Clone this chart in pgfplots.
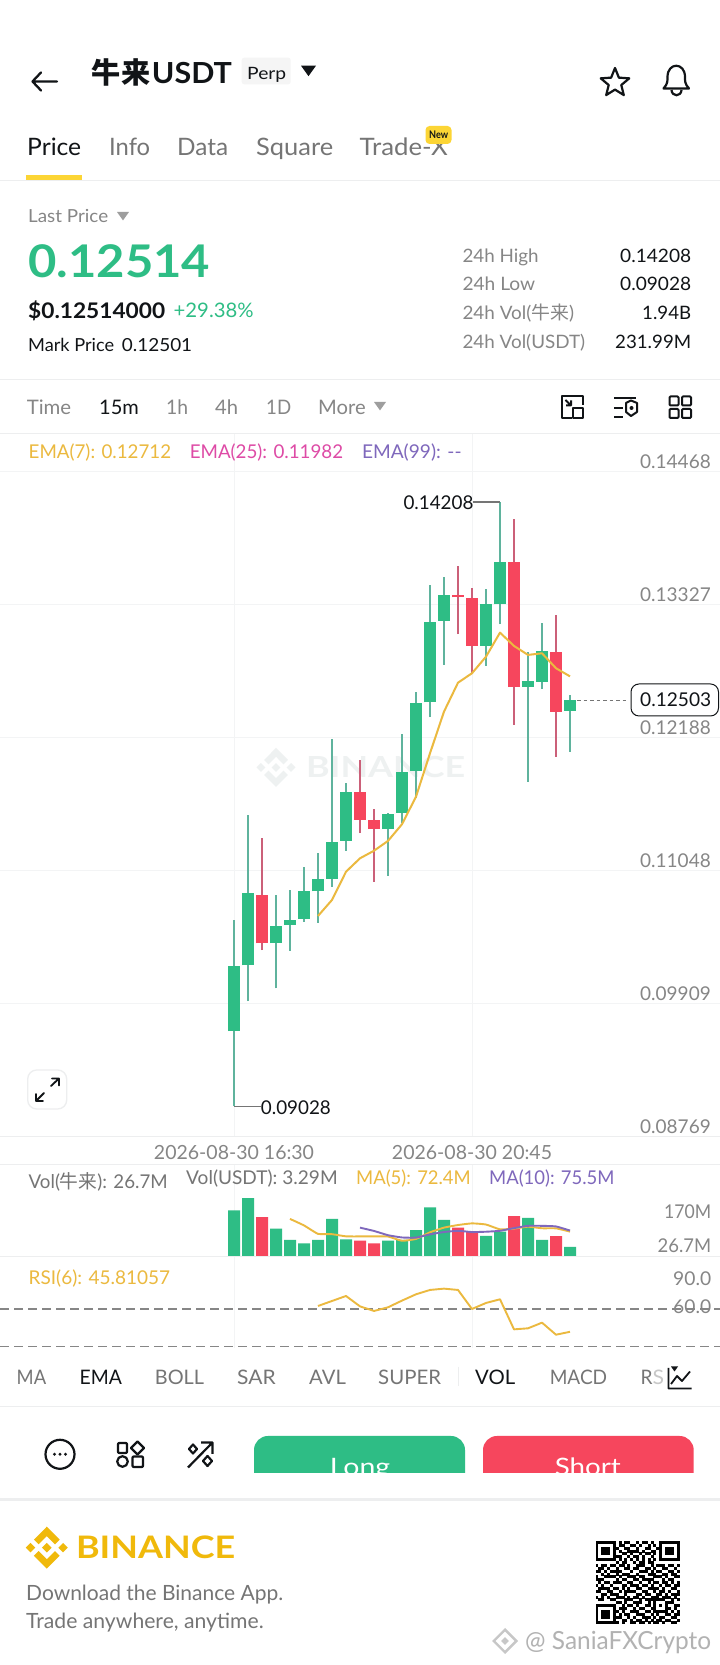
\documentclass[border=0pt]{standalone}
\usepackage{fontspec}
\usepackage{graphicx}
\usepackage{pgfplots}
\usepackage{pgfplotstable}
\pgfplotsset{compat=1.18}
\setmainfont{Lato}
\newfontfamily\cjk{Noto Sans CJK SC}
\definecolor{upc}{HTML}{2EBD85}
\definecolor{dnc}{HTML}{F6465D}
\definecolor{upw}{HTML}{5FB39D}
\definecolor{dnw}{HTML}{CB6079}
\definecolor{ema}{HTML}{EBB93F}
\definecolor{pnk}{HTML}{DE4BA6}
\definecolor{pur}{HTML}{7F68BC}
\definecolor{gridc}{HTML}{F3F4F5}
\definecolor{linec}{HTML}{EDEEEF}
\definecolor{gry}{HTML}{868686}
\definecolor{gry2}{HTML}{757575}
\definecolor{ink}{HTML}{111417}
\definecolor{yel}{HTML}{FCD535}
\definecolor{bnb}{HTML}{F0B90B}
\definecolor{wm}{HTML}{EEF1F1}
\newcommand\fs[1]{\fontsize{#1}{#1}\selectfont}
\newsavebox\tb
% text stretched to run from x1 to x2, vertically centred on cap height at y
\newcommand\TW[6]{%
  \pgfmathsetmacro\by{#3+0.36*#4}%
  \node[anchor=base west,inner sep=0pt] at (#1,\by) {\sbox\tb{\fs{#4}\color{#5}#6}\pgfmathsetmacro\sx{(#2-#1)/\the\wd\tb}\scalebox{\sx}[1]{\usebox\tb}};}
\newcommand\tri[4]{\fill[#4] (#1,#2) -- ++(#3,0) -- ++(-#3/2,#3*0.7) -- cycle;}
\newcommand\binlogo[4]{\begin{scope}[shift={(#1,#2)},x=#3pt,y=#3pt]\fill[#4]
  (-0.388,-0.16)--(0,-0.551)--(0.389,-0.16)--(0.615,-0.385)--(0,-1)--(-0.614,-0.385)--cycle
  (-0.388,0.16)--(0,0.551)--(0.389,0.16)--(0.615,0.385)--(0,1)--(-0.614,0.385)--cycle
  (-1,0)--(-0.774,-0.226)--(-0.548,0)--(-0.774,0.226)--cycle
  (1,0)--(0.774,-0.226)--(0.548,0)--(0.774,0.226)--cycle
  (0.229,0)--(0,-0.229)--(-0.229,0)--(0,0.229)--cycle;\end{scope}}
\newcount\qrx \newcount\qry
\def\qrscan#1{\ifx#1\relax\else\if1#1\fill (\the\qrx,\the\qry) rectangle +(1.03,1.03);\fi\global\advance\qrx by 1 \expandafter\qrscan\fi}
\def\qrline#1{\global\qrx=0 \qrscan#1\relax\global\advance\qry by 1 }
% i low high bodylow bodyhigh
\pgfplotstableread{
i lo hi bl bh
0 0.09028 0.10625 0.09671 0.10230
1 0.09930 0.11524 0.10236 0.10853
3 0.10039 0.10841 0.10427 0.10576
4 0.10359 0.10882 0.10582 0.10627
5 0.10610 0.11081 0.10631 0.10873
6 0.10601 0.11196 0.10870 0.10973
7 0.10910 0.12173 0.10978 0.11296
8 0.11218 0.11796 0.11302 0.11721
11 0.11004 0.11544 0.11404 0.11530
12 0.11453 0.12218 0.11544 0.11890
13 0.11667 0.12576 0.11901 0.12487
14 0.12362 0.13498 0.12490 0.13176
15 0.12810 0.13561 0.13187 0.13410
18 0.12801 0.13458 0.12973 0.13330
19 0.13159 0.14208 0.13330 0.13695
21 0.11810 0.12924 0.12619 0.12670
22 0.12602 0.13167 0.12667 0.12927
24 0.12067 0.12553 0.12418 0.12507
}\upT
\pgfplotstableread{
i lo hi bl bh
2 0.10367 0.11327 0.10425 0.10839
9 0.11368 0.11996 0.11484 0.11724
10 0.10953 0.11573 0.11404 0.11479
16 0.13075 0.13661 0.13390 0.13407
17 0.12739 0.13467 0.12973 0.13387
20 0.12296 0.14058 0.12619 0.13695
23 0.12024 0.13238 0.12410 0.12921
}\dnT
\pgfplotsset{pane/.style={scale only axis,width=720pt,xmin=-16.714,xmax=34.714,
  axis line style={draw=none},tick style={draw=none},xtick={0,17},xmajorgrids,
  major grid style={color=gridc,line width=1pt}},
  wick/.style={draw=none,mark=none,forget plot,error bars/.cd,y dir=plus,y explicit,error mark=none,error bar style={line width=2pt,color=#1}},
  body/.style={draw=none,mark=none,forget plot,error bars/.cd,y dir=plus,y explicit,error mark=none,error bar style={line width=12pt,color=#1}}}
\begin{document}
\begin{tikzpicture}
\useasboundingbox (0pt,0pt) rectangle (720pt,1665pt);
\fill[white] (0pt,0pt) rectangle (720pt,1665pt);
\begin{scope}[x=1pt,y=-1pt,yshift=1665pt]
  \binlogo{276}{767.5}{19.5}{wm}
  \TW{306}{465}{767.5}{29}{wm}{\bfseries BINANCE}
\end{scope}
% ---------- price pane
\begin{axis}[pane,at={(0pt,528.5pt)},anchor=south west,height=703pt,
  ymin=0.08769,ymax=0.147936,
  ytick={0.08769,0.09909,0.11048,0.12188,0.13327,0.14468},
  yticklabels={0.08769,0.09909,0.11048,0.12188,0.13327,0.14468},
  ymajorgrids,scaled y ticks=false,yticklabel pos=right,
  yticklabel style={anchor=base east,inner sep=0pt,xshift=-9pt,yshift=3pt,font=\fs{19},text=gry},
  xticklabels={2026-08-30 16:30,2026-08-30 20:45},
  xticklabel style={font=\fs{19.5},text=gry,yshift=-5pt}]
\addplot[wick=upw] table[x=i,y=lo,y error plus expr=\thisrow{hi}-\thisrow{lo}] {\upT};
\addplot[wick=dnw] table[x=i,y=lo,y error plus expr=\thisrow{hi}-\thisrow{lo}] {\dnT};
\addplot[body=upc] table[x=i,y=bl,y error plus expr=\thisrow{bh}-\thisrow{bl}] {\upT};
\addplot[body=dnc] table[x=i,y=bl,y error plus expr=\thisrow{bh}-\thisrow{bl}] {\dnT};
\addplot[ema,line width=2pt,line join=round] coordinates {(6,0.10659)(7,0.10796)(8,0.11038)(9,0.11153)(10,0.11218)(11,0.11302)(12,0.11445)(13,0.11681)(14,0.12053)(15,0.12410)(16,0.12658)(17,0.12739)(18,0.12881)(19,0.13087)(20,0.12973)(21,0.12896)(22,0.12910)(23,0.12782)(24,0.12712)};
\addplot[color=gry2,line width=1.4pt] coordinates {(19,0.14208)(17.1,0.14208)};
\addplot[color=gry2,line width=1.4pt] coordinates {(0,0.09028)(1.93,0.09028)};
\addplot[color=gry2,line width=1.3pt,dash pattern=on 3.5pt off 3pt] coordinates {(24.5,0.12503)(28.2,0.12503)};
\end{axis}
% ---------- volume pane
\begin{axis}[pane,at={(0pt,409pt)},anchor=south west,height=91pt,ymin=0,ymax=270,ytick=\empty,xticklabels={}]
\addplot[ybar,bar width=12pt,bar shift=0pt,draw=none,fill=upc] coordinates {(0,135.5)(1,172)(3,81)(4,47.5)(5,37.6)(6,47.5)(7,110)(8,49.5)(11,45.5)(12,47.5)(13,77)(14,144)(15,107)(18,60)(19,72)(21,113)(22,48)(24,26.7)};
\addplot[ybar,bar width=12pt,bar shift=0pt,draw=none,fill=dnc] coordinates {(2,115)(9,45.5)(10,37.6)(16,84)(17,72)(20,118)(23,59)};
\addplot[ema,line width=1.9pt,smooth,tension=0.25] coordinates {(4,110)(5,90.7)(6,65.7)(7,64.7)(8,58.3)(9,58)(10,58)(11,57.7)(12,45.1)(13,50.6)(14,70.3)(15,84.2)(16,91.9)(17,96.8)(18,93.4)(19,79)(20,81.2)(21,87)(22,82.2)(23,82)(24,72.4)};
\addplot[pur,line width=1.9pt,smooth,tension=0.25] coordinates {(9,84.1)(10,74.3)(11,61.7)(12,54.9)(13,54.5)(14,64.2)(15,71.1)(16,74.8)(17,71)(18,72)(19,74.7)(20,82.7)(21,89.5)(22,89.5)(23,87.7)(24,75.5)};
\end{axis}
% ---------- RSI pane
\begin{axis}[pane,at={(0pt,317pt)},anchor=south west,height=92pt,ymin=28.62,ymax=126.23,ytick=\empty,xticklabels={}]
\addplot[gry,line width=1.6pt,dash pattern=on 9pt off 5pt] coordinates {(-16.714,70)(34.714,70)};
\addplot[gry,line width=1.6pt,dash pattern=on 9pt off 5pt] coordinates {(-16.714,30)(34.714,30)};
\addplot[ema,line width=1.9pt,line join=round] coordinates {(6,73.2)(7,78.5)(8,83.8)(9,72.8)(10,67.9)(11,71.8)(12,78.9)(13,85.6)(14,90.2)(15,91.6)(16,90.2)(17,70)(18,76.4)(19,80.3)(20,48.4)(21,49.5)(22,55.5)(23,42.7)(24,45.81)};
\end{axis}
\begin{scope}[x=1pt,y=-1pt,yshift=1665pt]
  % header
  \draw[ink,line width=2.3pt,line cap=round,line join=round] (57,81.5)--(32.5,81.5) (41,72.5)--(32.5,81.5)--(41,90.5);
  \TW{91.7}{150}{73}{29}{ink}{\cjk\bfseries 牛来}
  \TW{151.7}{231.7}{73}{29}{ink}{\bfseries USDT}
  \fill[black!4,rounded corners=2.5] (241.7,57.7) rectangle (290.7,84.3);
  \TW{247}{286}{73}{17}{ink}{Perp}
  \tri{301}{65.7}{15}{ink}
  \draw[ink,line width=2.2pt,line join=round,shift={(615,83)}] (-90:15)--(-54:6.6)--(-18:15)--(18:6.6)--(54:15)--(90:6.6)--(126:15)--(162:6.6)--(198:15)--(234:6.6)--cycle;
  \draw[ink,line width=2.2pt,line join=round] (663.5,88.5) .. controls (668,84) and (667.5,80) .. (667.5,77) .. controls (667.5,62) and (685,62) .. (685,77) .. controls (685,80) and (684.5,84) .. (689,88.5) -- cycle;
  \draw[ink,line width=2.2pt] (671.5,90) .. controls (672,97) and (681,97) .. (681.5,90);
  % tabs
  \TW{27}{81}{147}{24}{ink}{Price}
  \TW{109}{150}{147}{24}{gry2}{Info}
  \TW{177}{228}{147}{24}{gry2}{Data}
  \TW{256}{333}{147}{24}{gry2}{Square}
  \TW{359.5}{447.6}{147}{24}{gry2}{Trade-X}
  \fill[yel,rounded corners=4] (425.5,126) rectangle (451.5,144);
  \TW{429}{448}{135}{10.5}{ink}{\bfseries New}
  \fill[yel] (26,175) rectangle (82,180);
  \draw[linec,line width=1pt] (0,180.7)--(720,180.7);
  % price block
  \TW{28}{108}{216}{18}{gry}{Last Price}
  \tri{117}{212}{12}{gry!80}
  \TW{28}{210}{261.5}{45}{upc}{\bfseries 0.12514}
  \TW{28}{165}{310.7}{21.5}{ink}{\bfseries \$0.12514000}
  \TW{173.5}{253.4}{310.7}{20}{upc}{+29.38\%}
  \TW{28}{114}{344.7}{18}{ink}{Mark Price}
  \TW{121.7}{192}{344.7}{18}{ink}{0.12501}
  \TW{462.3}{538.5}{256}{18.5}{gry}{24h High}
  \TW{462.3}{535}{284}{18.5}{gry}{24h Low}
  \TW{462.3}{574}{313.3}{18.5}{gry}{24h Vol({\cjk 牛来})}
  \TW{462.3}{585}{341.7}{18.5}{gry}{24h Vol(USDT)}
  \TW{620}{691}{256}{18.5}{ink}{0.14208}
  \TW{620}{691}{284}{18.5}{ink}{0.09028}
  \TW{642}{691}{313.3}{18.5}{ink}{1.94B}
  \TW{615}{691}{341.7}{18.5}{ink}{231.99M}
  \draw[linec,line width=1pt] (0,379.3)--(720,379.3);
  % timeframe row
  \TW{26.6}{71}{407}{20}{gry}{Time}
  \TW{99}{138.7}{407}{20}{ink}{15m}
  \TW{166}{188}{407}{20}{gry}{1h}
  \TW{215}{238}{407}{20}{gry}{4h}
  \TW{266}{291}{407}{20}{gry}{1D}
  \TW{318}{365.5}{407}{20}{gry}{More}
  \tri{374}{402}{12}{gry!80}
  \begin{scope}[ink,line width=2pt,line join=round]
    \draw (572,396)--(561.5,396)--(561.5,418)--(572,418);
    \draw (572,396)--(583,396)--(583,405);
    \draw (573,408) rectangle (583,418);
    \draw (565.5,400)--(571,405.5) (571,400.5)--(571,405.5)--(566,405.5);
    \draw (614,398)--(636,398) (614,408)--(623,408) (614,417)--(623,417);
    \draw (626,403)--(631,400.5)--(637,403)--(637,412)--(631,416)--(626,412)--cycle;
    \fill (631.5,408) circle (2);
    \draw[rounded corners=1] (669.5,396.5) rectangle (678.5,405.5) (682,396.5) rectangle (691,405.5) (669.5,409) rectangle (678.5,418) (682,409) rectangle (691,418);
  \end{scope}
  \draw[linec,line width=1pt] (0,433.5)--(720,433.5);
  % legends
  \TW{28.5}{171}{451.7}{19}{ema}{EMA(7): 0.12712}
  \TW{189.6}{343}{451.7}{19}{pnk}{EMA(25): 0.11982}
  \TW{361.8}{461.4}{451.7}{19}{pur}{EMA(99): {-}{-}}
  \TW{403.3}{473.3}{502.7}{19}{ink}{0.14208}
  \TW{260.7}{330.7}{1107.7}{19}{ink}{0.09028}
  \fill[white,draw=ink,line width=1pt,rounded corners=8] (631,684) rectangle (718.5,716);
  \TW{640}{711}{700}{19}{ink}{0.12503}
  % expand button
  \draw[linec,line width=1.3pt,fill=white,rounded corners=9] (27.7,1070) rectangle (66.7,1109);
  \draw[ink,line width=1.8pt,line cap=round,line join=round] (36,1101)--(44,1093) (36,1094)--(36,1101)--(43,1101) (59,1078.5)--(51,1086) (52,1078.5)--(59,1078.5)--(59,1085.5);
  % separators
  \draw[linec,line width=1pt] (0,1136.7)--(720,1136.7) (0,1165)--(720,1165) (0,1256.5)--(720,1256.5);
  % volume text
  \TW{28.5}{167.6}{1181.7}{19}{gry2}{Vol({\cjk 牛来}): 26.7M}
  \TW{186}{337.5}{1177.3}{19}{gry2}{Vol(USDT): 3.29M}
  \TW{356}{470.6}{1177.3}{19}{ema}{MA(5): 72.4M}
  \TW{489}{614.3}{1177.3}{19}{pur}{MA(10): 75.5M}
  \TW{664}{711}{1211.7}{19}{gry}{170M}
  \TW{657.5}{711}{1246}{19}{gry}{26.7M}
  \TW{28.5}{170}{1277.3}{19}{ema}{RSI(6): 45.81057}
  \TW{673}{711}{1278.3}{19}{gry}{90.0}
  \TW{673}{711}{1306.7}{19}{gry}{60.0}
  % indicator row
  \TW{16.5}{46}{1377.7}{20}{gry2}{MA}
  \TW{79.4}{121.7}{1377}{20}{ink}{EMA}
  \TW{154.7}{203.9}{1377.7}{20}{gry2}{BOLL}
  \TW{237}{275.5}{1377.7}{20}{gry2}{SAR}
  \TW{309}{345.7}{1377.7}{20}{gry2}{AVL}
  \TW{378}{440.8}{1377.7}{20}{gry2}{SUPER}
  \draw[linec,line width=1pt] (458,1367)--(458,1386);
  \TW{475}{515}{1377}{20}{ink}{VOL}
  \TW{549.6}{607}{1377.7}{20}{gry2}{MACD}
  \TW{640.5}{652.5}{1377.7}{20}{gry2}{R}
  \TW{652.5}{664}{1377.7}{20}{gry!45}{S}
  \fill[ink] (671,1366.5)--(678,1366.5)--(674.5,1371.5)--cycle;
  \draw[ink,line width=1.8pt,line join=round] (668.5,1368)--(668.5,1388.5)--(691.5,1388.5) (671,1384)--(677,1376)--(682,1381)--(690,1371.5);
  \draw[linec,line width=1pt] (0,1406.7)--(720,1406.7);
  % action row
  \draw[ink,line width=2.2pt] (60,1454.3) circle (14.5);
  \fill[ink] (54.5,1454.3) circle (1.7) (60,1454.3) circle (1.7) (65.5,1454.3) circle (1.7);
  \begin{scope}[ink,line width=2.2pt,line join=round]
    \draw[rounded corners=1] (118,1443) rectangle (127,1453);
    \draw (137.5,1441.5)--(144,1448)--(137.5,1454.5)--(131,1448)--cycle;
    \draw (122.5,1461.5) circle (5.3);
    \draw[rounded corners=1] (132.5,1456.5) rectangle (143,1467);
    \draw (188,1467.5)--(212.5,1442.5) (201,1442.5)--(212.5,1442.5)--(212.5,1454);
    \draw (193,1444.5)--(197,1449)--(193,1453.5)--(189,1449)--cycle;
    \draw (207.5,1456)--(212,1461)--(207.5,1466)--(203,1461)--cycle;
  \end{scope}
  \begin{scope}
    \clip (240,1430) rectangle (700,1472.7);
    \fill[upc,rounded corners=14] (254,1436) rectangle (465,1500);
    \fill[dnc,rounded corners=14] (483,1436) rectangle (693.7,1500);
    \TW{329.6}{390}{1467}{24}{white}{Long}
    \TW{554.6}{620.7}{1467}{24}{white}{Short}
  \end{scope}
  \draw[linec,line width=3pt] (0,1500)--(720,1500);
  % footer
  \binlogo{46.8}{1547.7}{21}{bnb}
  \TW{75.8}{235}{1547.7}{31}{bnb}{\bfseries BINANCE}
  \TW{26}{283}{1592.7}{21}{gry2}{Download the Binance App.}
  \TW{26}{263.5}{1620.7}{21}{gry2}{Trade anywhere, anytime.}
  \begin{scope}[shift={(595.5,1541)},x=2.897pt,y=-2.873pt]
    \global\qry=0
    \qrline{11111110101100101101001111111}
    \qrline{10000010110011010010101000001}
    \qrline{10111011001100100110011011101}
    \qrline{10111010100111101001101011101}
    \qrline{10111010011010010110101011101}
    \qrline{10000011100101101001001000001}
    \qrline{11111110101010101010101111111}
    \qrline{00000001011001011011000000000}
    \qrline{10110110110100111001011101101}
    \qrline{01101001001101100110100110010}
    \qrline{11010111100010011101011001101}
    \qrline{00101001011100100011100110110}
    \qrline{10011110100111011000111010011}
    \qrline{11100001011001101111000101100}
    \qrline{01011011100110010010110110101}
    \qrline{10100100011011101101001011011}
    \qrline{01111011010100110011110100110}
    \qrline{11001100101111001100101101001}
    \qrline{00110111001000110110011010111}
    \qrline{10101001110101101001110111010}
    \qrline{01100110001110010111111100101}
    \qrline{00000001101001110010100011100}
    \qrline{11111110010110100110101010011}
    \qrline{10000010111001011001100011010}
    \qrline{10111011010011100110111110101}
    \qrline{10111010101100111001010011011}
    \qrline{10111011100101001110101100110}
    \qrline{10000010011010110101011011001}
    \qrline{11111111010011011010110100110}
  \end{scope}
  % watermark
  \begin{scope}[shift={(505,1641)},x=13pt,y=13pt]
    \fill[black!22] (0,-1)--(1,0)--(0,1)--(-1,0)--cycle;
    \fill[white] (0,-0.72)--(0.72,0)--(0,0.72)--(-0.72,0)--cycle;
    \fill[black!22] (0,-0.3)--(0.3,0)--(0,0.3)--(-0.3,0)--cycle;
  \end{scope}
  \TW{525}{711}{1640}{25}{black!30}{@ SaniaFXCrypto}
\end{scope}
\end{tikzpicture}
\end{document}
